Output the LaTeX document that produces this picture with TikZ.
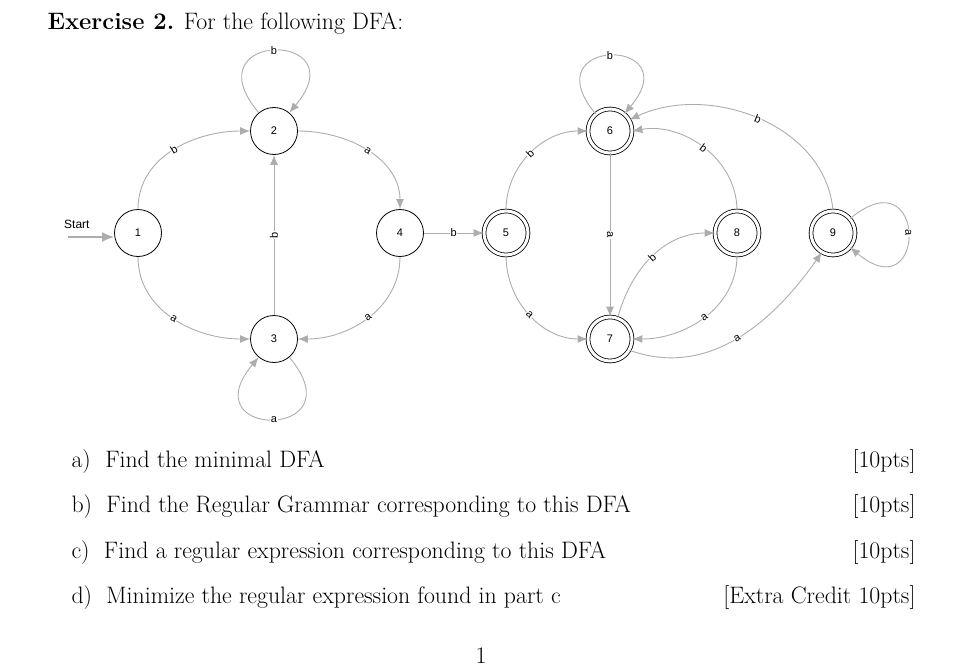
\documentclass[tikz,border=0pt]{standalone}
\usepackage{fontspec}
\usetikzlibrary{arrows.meta}
\newfontfamily\lab{Liberation Sans}
\begin{document}
\begin{tikzpicture}[x=1pt,y=-1pt,
  st/.style={circle,draw,thick,minimum size=47pt,inner sep=0pt,font=\lab\fontsize{11}{13}\selectfont},
  acc/.style={st,minimum size=44pt,double=white,double distance=3pt},
  ed/.style={draw=black!32,line width=0.9pt,-{Latex[length=10pt,width=8pt]}},
  lb/.style={sloped,fill=white,inner sep=0.5pt,font=\lab\fontsize{11}{13}\selectfont},
  big/.style={font=\fontsize{23.8}{28}\selectfont},
  body/.style={anchor=base west,big}]
\useasboundingbox (0,0) rectangle (965,666);
\node[body] (title) at (44,30) {\textbf{Exercise 2.} For the following DFA:};
\node[st] (n1) at (138,233) {1};
\node[st] (n2) at (274,131) {2};
\node[st] (n3) at (274,339) {3};
\node[st] (n4) at (400,233) {4};
\node[acc] (n5) at (506,233) {5};
\node[acc] (n6) at (610,131) {6};
\node[acc] (n7) at (610,339) {7};
\node[acc] (n8) at (737,233) {8};
\node[acc] (n9) at (833,233) {9};
\coordinate (s0) at (68,237);
\node[anchor=south west,inner sep=0pt,font=\lab\fontsize{12}{14}\selectfont] (startlab) at (64,229) {Start};
\draw[draw=black!32,line width=2pt,-{Latex[length=12pt,width=10pt]}] (s0) -- (n1.west |- s0);
\draw[ed] (n1.north) to[out=90,in=180] node[lb]{b} (n2.west);
\draw[ed] (n1.south) to[out=-90,in=180] node[lb]{a} (n3.west);
\draw[ed] (n2.east) to[out=0,in=90] node[lb]{a} (n4.north);
\draw[ed] (n4.south) to[out=-90,in=0] node[lb]{a} (n3.east);
\draw[ed] (n3) -- node[lb]{b} (n2);
\draw[ed] (n2.130) to[out=130,in=50,looseness=9] node[lb,pos=0.5]{b} (n2.50);
\draw[ed] (n3.-50) to[out=-50,in=-130,looseness=9] node[lb,pos=0.5]{a} (n3.-130);
\draw[ed] (n4) -- node[lb]{b} (n5);
\draw[ed] (n5.north) to[out=90,in=180] node[lb]{b} (n6.west);
\draw[ed] (n5.south) to[out=-90,in=180] node[lb]{a} (n7.west);
\draw[ed] (n6) -- node[lb]{a} (n7);
\draw[ed] (n6.130) to[out=130,in=50,looseness=9] node[lb,pos=0.5]{b} (n6.50);
\draw[ed] (n8.north) to[out=90,in=10] node[lb]{b} (n6.east);
\draw[ed] (n7.70) to[out=75,in=180] node[lb]{b} (n8.west);
\draw[ed] (n8.south) to[out=-90,in=0] node[lb]{a} (n7.east);
\draw[ed] (n9.north) to[out=95,in=25] node[lb]{b} (n6.30);
\draw[ed] (n7.-30) to[out=-20,in=-125] node[lb]{a} (n9.-120);
\draw[ed] (n9.40) to[out=40,in=-40,looseness=9] node[lb,pos=0.5]{a} (n9.-40);
\node[body] (qa) at (68,467) {a)\ \ Find the minimal DFA};
\node[body] (qb) at (68,512) {b)\ \ Find the Regular Grammar corresponding to this DFA};
\node[body] (qc) at (68,558) {c)\ \ Find a regular expression corresponding to this DFA};
\node[body] (qd) at (68,603) {d)\ \ Minimize the regular expression found in part c};
\node[anchor=base east,big] (pa) at (919,467) {[10pts]};
\node[anchor=base east,big] (pb) at (919,512) {[10pts]};
\node[anchor=base east,big] (pc) at (919,558) {[10pts]};
\node[anchor=base east,big] (pd) at (919,603) {[Extra Credit 10pts]};
\node[anchor=base,big,inner sep=0pt] (pg) at (481,663) {1};
\end{tikzpicture}
\end{document}
